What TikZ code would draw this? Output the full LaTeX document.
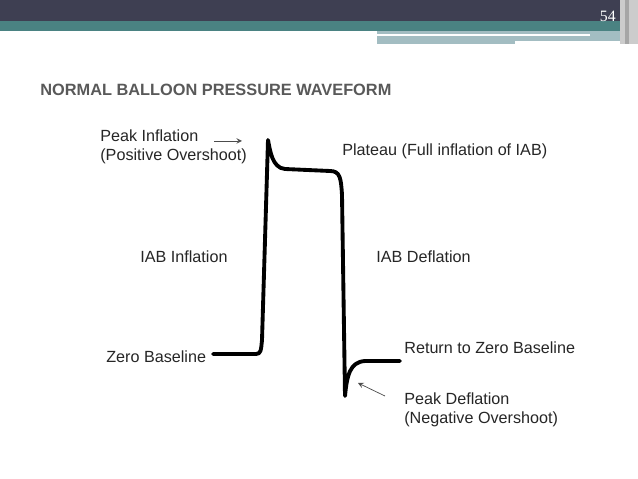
\documentclass[tikz,border=0pt]{standalone}
\usepackage{fontspec}
\setmainfont{Liberation Sans}
\newfontfamily\serifnum{Liberation Serif}
\definecolor{hdr}{HTML}{3E3F52}
\definecolor{tl}{HTML}{4A8282}
\definecolor{ltl}{HTML}{A3BDC2}
\begin{document}
\begin{tikzpicture}[x=0.02cm,y=-0.02cm,
  lbl/.style={anchor=west,inner sep=0pt,font=\fontsize{9.2pt}{10.8pt}\selectfont,text=black!85,align=left},
  wave/.style={line width=2.2pt,line join=round,line cap=round}]
\useasboundingbox (0,0) rectangle (638,479);
\fill[fill=white] (0,0) rectangle (638,479);
\fill[fill=hdr] (0,0) rectangle (638,21);
\fill[fill=tl] (0,21) rectangle (620,31);
\fill[fill=ltl] (377,31) rectangle (620,44);
\fill[white] (377,34) rectangle (590,36);
\fill[white] (515,41) rectangle (625,44);
\fill[gray!40] (620,0) rectangle (638,44);
\fill[gray!70] (625,0) rectangle (629,44);
\node[anchor=east,inner sep=0pt,text=white,font=\serifnum\fontsize{9pt}{10pt}\selectfont] (num) at (616,16) {54};
\node[lbl,font=\bfseries\fontsize{9.3pt}{10pt}\selectfont,text=black!65] (title) at (40,90) {NORMAL BALLOON PRESSURE WAVEFORM};
\node[lbl] (pk) at (100,147) {Peak Inflation\\(Positive Overshoot)};
\node[lbl] (pl) at (342,151) {Plateau (Full inflation of IAB)};
\node[lbl] (ii) at (140,257) {IAB Inflation};
\node[lbl] (id) at (376,257) {IAB Deflation};
\node[lbl] (zb) at (106,357) {Zero Baseline};
\node[lbl] (rz) at (404,348) {Return to Zero Baseline};
\node[lbl] (pd) at (404,410) {Peak Deflation\\(Negative Overshoot)};
\coordinate (s) at (213,354);
\coordinate (p) at (268,140);
\coordinate (m) at (345,396);
\draw[wave] (s) -- (256,354) .. controls (261,354) and (261,350) .. (262,340) -- (p)
  .. controls (270,150) and (272,168) .. (285,169) -- (330,171)
  .. controls (340,171) and (341,178) .. (342,195) -- (m)
  .. controls (347,375) and (350,362) .. (365,361) -- (400,361);
\draw[-stealth,black!70] (214,141) -- (242,141);
\draw[-stealth,black!70] (385,396) -- (358,383);
\end{tikzpicture}
\end{document}
